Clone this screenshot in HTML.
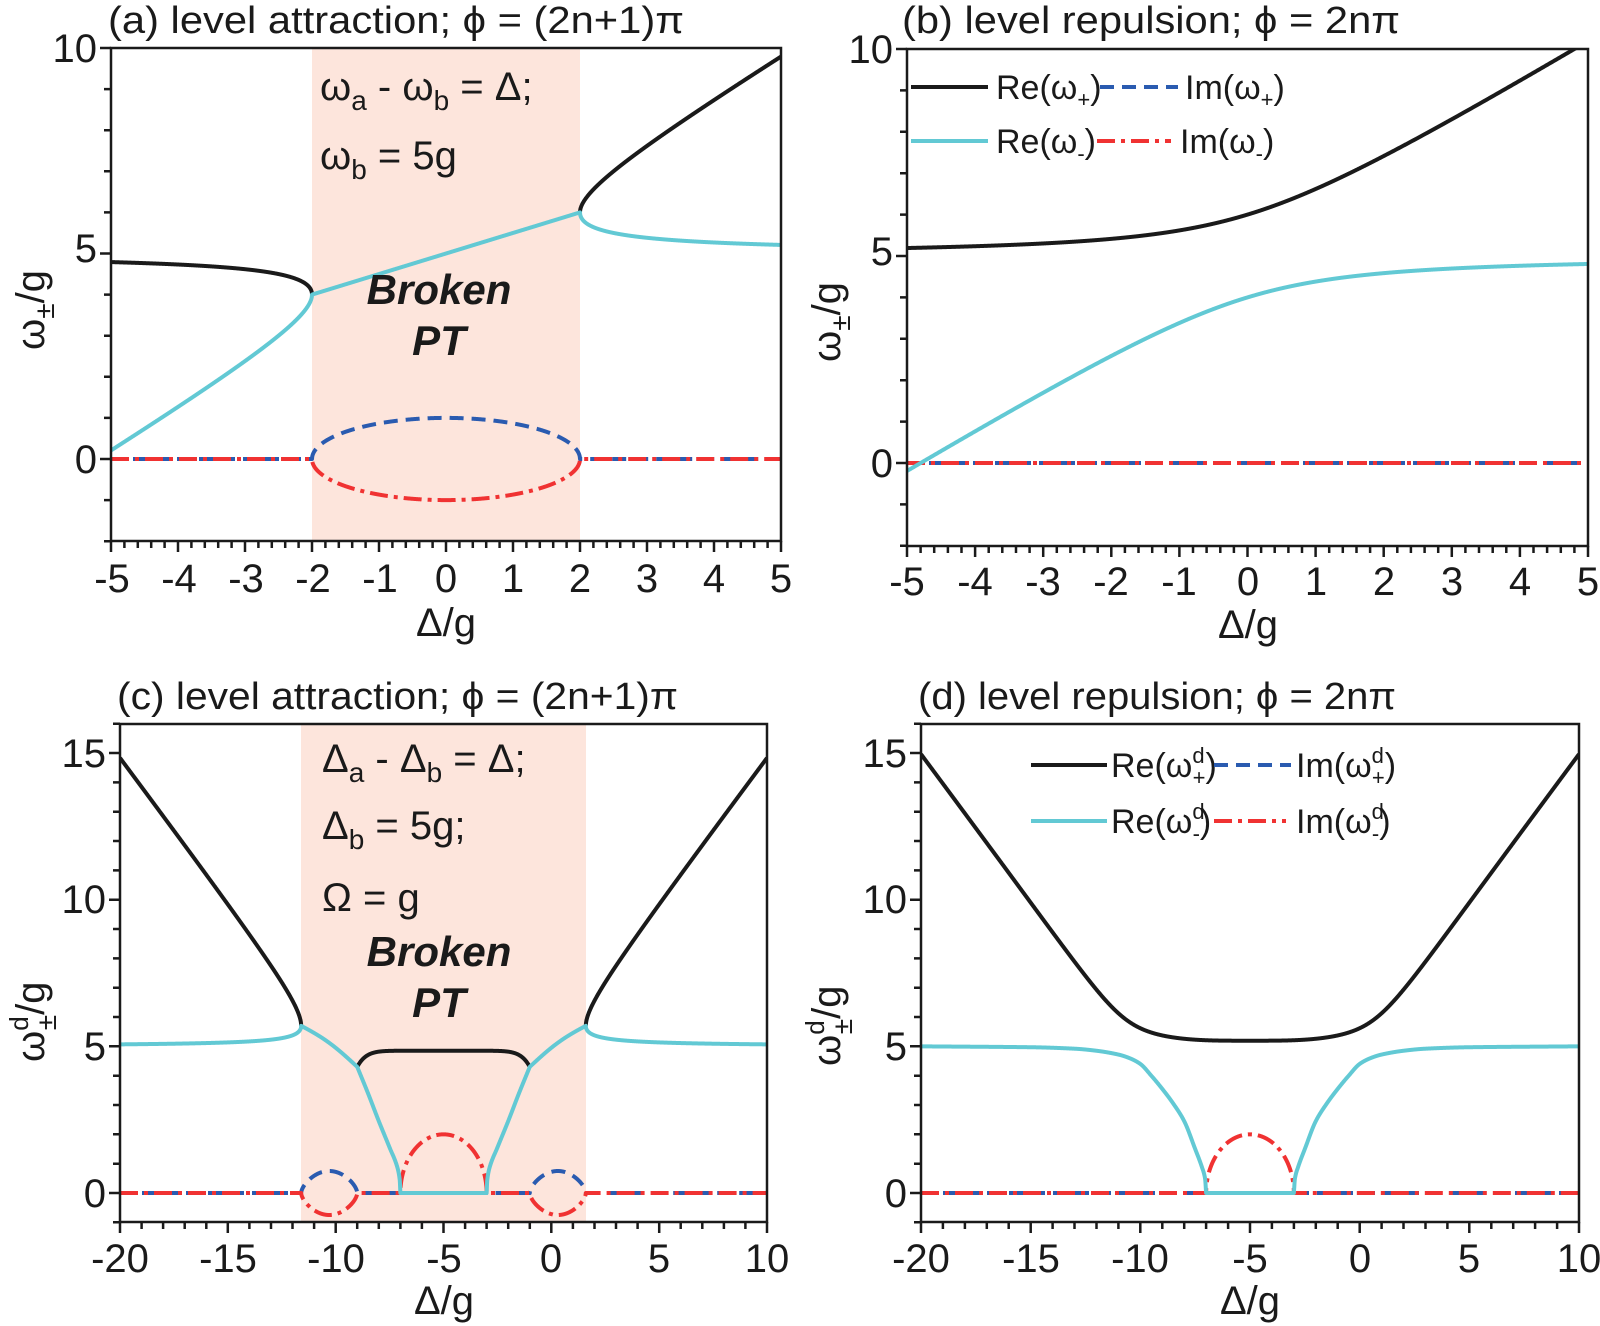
<!DOCTYPE html>
<html><head><meta charset="utf-8"><style>
html,body{margin:0;padding:0;background:#fff}
svg{display:block}
text{font-family:"Liberation Sans",Arial,sans-serif;fill:#1a1a1a}
</style></head><body>
<svg id="s" width="1600" height="1326" viewBox="0 0 1600 1326" xmlns="http://www.w3.org/2000/svg">
<defs>
<clipPath id="cA"><rect x="111" y="48" width="670" height="493"/></clipPath>
<clipPath id="cB"><rect x="907" y="49" width="681" height="497"/></clipPath>
<clipPath id="cC"><rect x="120" y="724" width="647" height="498"/></clipPath>
<clipPath id="cD"><rect x="921" y="724" width="658" height="498"/></clipPath>
</defs>
<rect x="312" y="48" width="268" height="493" fill="#fde5dc"/>
<rect x="301" y="724" width="285" height="498" fill="#fde5dc"/>
<g id="curves"></g>
<g id="axes"></g>

<text x="108" y="33" font-size="38" textLength="576" lengthAdjust="spacingAndGlyphs">(a) level attraction; ϕ = (2n+1)π</text>
<text x="902" y="33" font-size="38" textLength="498" lengthAdjust="spacingAndGlyphs">(b) level repulsion; ϕ = 2nπ</text>
<text x="117" y="709" font-size="38" textLength="561" lengthAdjust="spacingAndGlyphs">(c) level attraction; ϕ = (2n+1)π</text>
<text x="918" y="709" font-size="38" textLength="478" lengthAdjust="spacingAndGlyphs">(d) level repulsion; ϕ = 2nπ</text>

<g font-size="40" text-anchor="end">
<text x="97" y="62">10</text><text x="97" y="262">5</text><text x="97" y="473">0</text>
<text x="893" y="63">10</text><text x="893" y="265">5</text><text x="893" y="477">0</text>
<text x="106" y="767">15</text><text x="106" y="913">10</text><text x="106" y="1060">5</text><text x="106" y="1207">0</text>
<text x="907" y="767">15</text><text x="907" y="913">10</text><text x="907" y="1060">5</text><text x="907" y="1207">0</text>
</g>
<g font-size="40" text-anchor="middle">
<text x="112" y="592">-5</text><text x="179" y="592">-4</text><text x="246" y="592">-3</text><text x="313" y="592">-2</text><text x="380" y="592">-1</text><text x="446" y="592">0</text><text x="513" y="592">1</text><text x="580" y="592">2</text><text x="647" y="592">3</text><text x="714" y="592">4</text><text x="781" y="592">5</text>
<text x="907" y="595">-5</text><text x="975" y="595">-4</text><text x="1043" y="595">-3</text><text x="1111" y="595">-2</text><text x="1179" y="595">-1</text><text x="1248" y="595">0</text><text x="1316" y="595">1</text><text x="1384" y="595">2</text><text x="1452" y="595">3</text><text x="1520" y="595">4</text><text x="1588" y="595">5</text>
<text x="120" y="1272">-20</text><text x="228" y="1272">-15</text><text x="336" y="1272">-10</text><text x="444" y="1272">-5</text><text x="551" y="1272">0</text><text x="659" y="1272">5</text><text x="767" y="1272">10</text>
<text x="921" y="1272">-20</text><text x="1031" y="1272">-15</text><text x="1140" y="1272">-10</text><text x="1250" y="1272">-5</text><text x="1360" y="1272">0</text><text x="1469" y="1272">5</text><text x="1579" y="1272">10</text>
</g>
<g font-size="40" text-anchor="middle">
<text x="446" y="636">Δ/g</text><text x="1248" y="638">Δ/g</text>
<text x="444" y="1314">Δ/g</text><text x="1250" y="1314">Δ/g</text>
</g>
<g font-size="40">
<text transform="translate(44,350) rotate(-90)">ω<tspan font-size="28" dy="10">±</tspan><tspan dy="-10">/g</tspan></text>
<text transform="translate(840,362) rotate(-90)">ω<tspan font-size="28" dy="10">±</tspan><tspan dy="-10">/g</tspan></text>
<text transform="translate(44,1062) rotate(-90)">ω<tspan font-size="26" dy="-16">d</tspan><tspan font-size="28" dx="-14" dy="28">±</tspan><tspan dy="-12">/g</tspan></text>
<text transform="translate(840,1066) rotate(-90)">ω<tspan font-size="26" dy="-16">d</tspan><tspan font-size="28" dx="-14" dy="28">±</tspan><tspan dy="-12">/g</tspan></text>
</g>
<g font-size="40">
<text x="320" y="100">ω<tspan font-size="28" dy="10">a</tspan><tspan dy="-10"> - ω</tspan><tspan font-size="28" dy="10">b</tspan><tspan dy="-10"> = Δ;</tspan></text>
<text x="320" y="169">ω<tspan font-size="28" dy="10">b</tspan><tspan dy="-10"> = 5g</tspan></text>
<text x="322" y="772">Δ<tspan font-size="28" dy="10">a</tspan><tspan dy="-10"> - Δ</tspan><tspan font-size="28" dy="10">b</tspan><tspan dy="-10"> = Δ;</tspan></text>
<text x="322" y="839">Δ<tspan font-size="28" dy="10">b</tspan><tspan dy="-10"> = 5g;</tspan></text>
<text x="322" y="911">Ω = g</text>
</g>
<g font-size="42" font-weight="bold" font-style="italic" text-anchor="middle">
<text x="439" y="304">Broken</text><text x="439" y="355">PT</text>
<text x="439" y="966">Broken</text><text x="439" y="1017">PT</text>
</g>
<g font-size="34">
<text x="996" y="99">Re(ω<tspan font-size="22" dy="8">+</tspan><tspan dy="-8">)</tspan></text>
<text x="1185" y="99">Im(ω<tspan font-size="22" dy="8">+</tspan><tspan dy="-8">)</tspan></text>
<text x="996" y="153">Re(ω<tspan font-size="22" dy="8">-</tspan><tspan dy="-8">)</tspan></text>
<text x="1180" y="153">Im(ω<tspan font-size="22" dy="8">-</tspan><tspan dy="-8">)</tspan></text>
<text x="1111" y="777">Re(ω<tspan font-size="22" dy="-14">d</tspan><tspan font-size="22" dx="-12" dy="22">+</tspan><tspan dy="-8">)</tspan></text>
<text x="1296" y="777">Im(ω<tspan font-size="22" dy="-14">d</tspan><tspan font-size="22" dx="-12" dy="22">+</tspan><tspan dy="-8">)</tspan></text>
<text x="1111" y="833">Re(ω<tspan font-size="22" dy="-14">d</tspan><tspan font-size="22" dx="-12" dy="22">-</tspan><tspan dy="-8">)</tspan></text>
<text x="1296" y="833">Im(ω<tspan font-size="22" dy="-14">d</tspan><tspan font-size="22" dx="-12" dy="22">-</tspan><tspan dy="-8">)</tspan></text>
</g>
<g stroke-width="4" fill="none">
<line x1="911" y1="87" x2="988" y2="87" stroke="#1a1a1a"/>
<line x1="1100" y1="87" x2="1178" y2="87" stroke="#2a5bb0" stroke-dasharray="14 8"/>
<line x1="911" y1="141" x2="988" y2="141" stroke="#62c9d4"/>
<line x1="1097" y1="141" x2="1171" y2="141" stroke="#f03232" stroke-dasharray="18 6 4 6"/>
<line x1="1031" y1="765" x2="1107" y2="765" stroke="#1a1a1a"/>
<line x1="1214" y1="765" x2="1291" y2="765" stroke="#2a5bb0" stroke-dasharray="14 8"/>
<line x1="1031" y1="821" x2="1107" y2="821" stroke="#62c9d4"/>
<line x1="1214" y1="821" x2="1286" y2="821" stroke="#f03232" stroke-dasharray="18 6 4 6"/>
</g>
</svg>
<script>
(function(){
var NS="http://www.w3.org/2000/svg";
var P={A:{x0:111,x1:781,xa:-5,xb:5,y0:459,k:41.1,top:48,bot:541},
B:{x0:907,x1:1588,xa:-5,xb:5,y0:463,k:41.4,top:49,bot:546},
C:{x0:120,x1:767,xa:-20,xb:10,y0:1193,k:29.33,top:724,bot:1222},
D:{x0:921,x1:1579,xa:-20,xb:10,y0:1193,k:29.33,top:724,bot:1222}};
function X(p,x){return p.x0+(x-p.xa)/(p.xb-p.xa)*(p.x1-p.x0);}
function Y(p,v){return p.y0-v*p.k;}
function path(p,f,a,b,n){n=n||3000;var d="",pen=false;for(var i=0;i<=n;i++){var x=a+(b-a)*i/n;var v=f(x);if(v==null||isNaN(v)){pen=false;continue;}d+=(pen?"L":"M")+X(p,x).toFixed(2)+" "+Y(p,v).toFixed(2);pen=true;}return d;}
var cg=document.getElementById("curves"),ag=document.getElementById("axes");
function add(g,tag,attrs){var e=document.createElementNS(NS,tag);for(var k in attrs)e.setAttribute(k,attrs[k]);g.appendChild(e);return e;}
var BLK="#1a1a1a",CY="#62c9d4",BL="#2a5bb0",RD="#f03232";
function draw(pn,d,col,type){var a={d:d,fill:"none",stroke:col,"stroke-width":4,"clip-path":"url(#c"+pn+")","stroke-linejoin":"round"};
if(type=="dash")a["stroke-dasharray"]="14 8";if(type=="dd")a["stroke-dasharray"]="18 6 4 6";add(cg,"path",a);}
function mkInterp(t){var n=t.length,m=[];for(var i=0;i<n;i++){var s;if(i==0)s=(t[1][1]-t[0][1])/(t[1][0]-t[0][0]);else if(i==n-1)s=(t[n-1][1]-t[n-2][1])/(t[n-1][0]-t[n-2][0]);else{var s1=(t[i][1]-t[i-1][1])/(t[i][0]-t[i-1][0]),s2=(t[i+1][1]-t[i][1])/(t[i+1][0]-t[i][0]);s=(s1*s2<=0)?0:2/(1/s1+1/s2);}m.push(s);}
return function(u){if(u<=t[0][0])return t[0][1];if(u>=t[n-1][0])return t[n-1][1];for(var i=1;i<n;i++){if(u<=t[i][0]){var h=t[i][0]-t[i-1][0],q=(u-t[i-1][0])/h;var h00=2*q*q*q-3*q*q+1,h10=q*q*q-2*q*q+q,h01=-2*q*q*q+3*q*q,h11=q*q*q-q*q;return h00*t[i-1][1]+h10*h*m[i-1]+h01*t[i][1]+h11*h*m[i];}}};}
var p=P.A;
function sA(x){return Math.sqrt(Math.max(0,x*x/4-1));}
draw("A",path(p,function(x){return 5+x/2+sA(x);},-5,-2)+path(p,function(x){return 5+x/2+sA(x);},2,5),BLK);
draw("A",path(p,function(x){return 5+x/2-sA(x);},-5,5),CY);
draw("A",path(p,function(x){return Math.abs(x)<2?Math.sqrt(1-x*x/4):0;},-5,5),BL,"dash");
draw("A",path(p,function(x){return Math.abs(x)<2?-Math.sqrt(1-x*x/4):0;},-5,5),RD,"dd");
p=P.B;
function sB(x){return Math.sqrt(x*x/4+1);}
draw("B",path(p,function(x){return 0;},-5,5),BL,"dash");
draw("B",path(p,function(x){return 0;},-5,5),RD,"dd");
draw("B",path(p,function(x){return 5+x/2+sB(x);},-5,5),BLK);
draw("B",path(p,function(x){return 5+x/2-sB(x);},-5,5),CY);
p=P.C;
function Af(u){return u+0.4;}
function rt(u){var A=Af(u);return Math.sqrt(Math.max(0,Math.pow((A-5)/2,2)-1));}
function bC(x){var u=Math.abs(x+5);var A=Af(u);return (A+5)/2+rt(u)-0.3-0.02*(u-6.6);}
var cinI=mkInterp([[2,0],[2.03,0.45],[2.15,0.9],[2.5,1.55],[3,2.45],[3.5,3.4],[4,4.3]]);
function cC(x){var u=Math.abs(x+5);if(u>=6.6){var A=Af(u);return 5+((A+5)/2-rt(u)-5)*0.7;}
if(u>=4){var t=(u-4)/2.6;return 4.3+t*1.4+0.12*Math.sin(Math.PI*t);}if(u>=2)return cinI(u);return 0;}
function lobe(u){if(u>4&&u<6.6){var t=(u-4)/2.6;return 0.75*Math.pow(Math.sin(Math.PI*t),0.6);}return 0;}
draw("C",path(p,function(x){return lobe(Math.abs(x+5));},-20,10,6000),BL,"dash");
draw("C",path(p,function(x){var u=Math.abs(x+5);if(u<2)return Math.sqrt(4-u*u);return -lobe(u);},-20,10,6000),RD,"dd");
draw("C",path(p,bC,-20,-11.6)+path(p,bC,1.6,10)+path(p,function(x){var u=Math.abs(x+5);return 4.85-0.55*Math.pow(u/4,10);},-9,-1),BLK);
draw("C",path(p,cC,-20,10,6000),CY);
p=P.D;
var cdI=mkInterp([[2,0],[2.05,0.5],[2.2,0.9],[2.5,1.5],[3,2.45],[3.5,3.05],[4,3.55],[4.5,4.0],[5,4.4],[5.5,4.6],[6,4.72],[7,4.85],[8,4.92],[10,4.97],[15,5]]);
draw("D",path(p,function(x){return 0;},-20,10),BL,"dash");
draw("D",path(p,function(x){var u=Math.abs(x+5);return u<2?Math.sqrt(4-u*u):0;},-20,10,6000),RD,"dd");
draw("D",path(p,function(x){var u=Math.abs(x+5);var A=Math.pow(u,4)/(Math.pow(u,3)+31.25);return (A+5)/2+Math.sqrt(Math.pow((A-5)/2,2)+1);},-20,10),BLK);
draw("D",path(p,function(x){var u=Math.abs(x+5);return u<2?0:cdI(u);},-20,10,6000),CY);
function axes(p,xminor,xmajor,ymin,ymax){
add(ag,"rect",{x:p.x0,y:p.top,width:p.x1-p.x0,height:p.bot-p.top,fill:"none",stroke:"#1a1a1a","stroke-width":2.5});
var d="";var n=Math.round((p.xb-p.xa)/xminor);
for(var i=0;i<=n;i++){var x=p.xa+i*xminor;var xx=X(p,x);var maj=Math.abs(x/xmajor-Math.round(x/xmajor))<1e-6;d+="M"+xx.toFixed(1)+" "+p.bot+"V"+(p.bot+(maj?11:7));}
for(var v=ymin;v<=ymax;v++){var yy=Y(p,v);if(yy<p.top-0.5||yy>p.bot+0.5)continue;var mj=(v%5==0);d+="M"+p.x0+" "+yy.toFixed(1)+"H"+(p.x0-(mj?11:7));}
add(ag,"path",{d:d,stroke:"#1a1a1a","stroke-width":2.5,fill:"none"});}
axes(P.A,0.2,1,-2,10);axes(P.B,0.2,1,-2,10);axes(P.C,1,5,-1,16);axes(P.D,1,5,-1,16);
})();
</script>
</body></html>
